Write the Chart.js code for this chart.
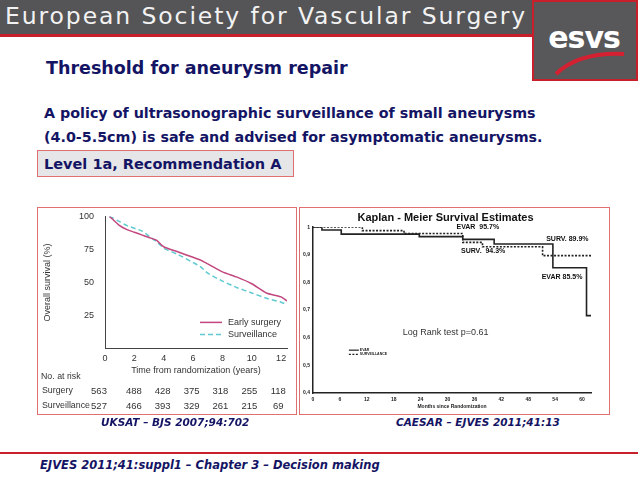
<!DOCTYPE html>
<html><head><meta charset="utf-8">
<script src="https://cdn.jsdelivr.net/npm/chart.js@4/dist/chart.umd.min.js"></script>
<style>
body{margin:0;width:638px;height:478px;background:#fff;position:relative;overflow:hidden;font-family:"DejaVu Sans",sans-serif}
.a{position:absolute;white-space:nowrap}
#hdr{left:0;top:0;width:638px;height:34px;background:#555557;border-bottom:3px solid #c8202a}
#hdrt{left:5px;top:2px;color:#f2f2f2;font-size:23.5px;letter-spacing:1.9px;font-family:"DejaVu Sans",sans-serif}
#logo{left:532px;top:0;width:102px;height:77px;background:#58585a;border:2px solid #c8202a}
.navy{color:#141464}
#panL,#panR{top:207px;height:206px;border:1px solid #e07070}
#panL{left:37px;width:258px}
#panR{left:299px;width:309px}
.cap{top:416px;font-size:10.5px;font-weight:bold;font-style:italic;color:#141464}
.risk{font-family:"Liberation Sans",Arial;font-size:9.5px;color:#333}
.rl{font-family:"Liberation Sans",Arial;font-size:8.8px;color:#333}
</style></head><body>
<div class="a" id="hdr"></div>
<div class="a" id="hdrt">European Society for Vascular Surgery</div>
<div class="a" id="logo"><svg width="102" height="77"><text x="50" y="46" text-anchor="middle" fill="#fff" font-family="DejaVu Sans" font-weight="bold" font-size="30" letter-spacing="-1">esvs</text><path d="M22 72 Q45 50 90 52" stroke="#d42030" stroke-width="4" fill="none"/></svg></div>
<div class="a navy" style="left:46px;top:58px;font-size:17.5px;font-weight:600">Threshold for aneurysm repair</div>
<div class="a navy" style="left:44px;top:101px;font-size:14.3px;font-weight:600;line-height:24px">A policy of ultrasonographic surveillance of small aneurysms<br>(4.0-5.5cm) is safe and advised for asymptomatic aneurysms.</div>
<div class="a navy" style="left:37px;top:150px;width:257px;height:27px;background:#e6e6e8;border:1px solid #e07070;font-size:14.5px;font-weight:600;line-height:26px;padding-left:6px;box-sizing:border-box">Level 1a, Recommendation A</div>
<div class="a" id="panL"><canvas id="c1" width="258" height="168" style="position:absolute;left:0;top:0"></canvas><div id="riskT"></div></div>
<div class="a" id="panR"><canvas id="c2" width="309" height="202" style="position:absolute;left:0;top:0"></canvas></div>
<div class="a cap" style="left:101px">UKSAT – BJS 2007;94:702</div>
<div class="a cap" style="left:396px">CAESAR – EJVES 2011;41:13</div>
<div class="a" style="left:0;top:452px;width:638px;height:2px;background:#c8202a"></div>
<div class="a" style="left:40px;top:458px;font-size:11.5px;font-style:italic;font-weight:bold;color:#141464">EJVES 2011;41:suppl1 – Chapter 3 – Decision making</div>
<script>
// UKSAT
const ukYears=[0.3,0.5,1,1.5,2,2.5,3,3.5,4,5,6,6.5,7,8,9,10,11,12,12.4];
const ukSurgery=[100,98,93,90,88,86,84,82,77,73,69,67,64,58,54,49,42,39,36];
const ukSurv=[100,99,96,93,91,89,85,81,76,71,65,62,57,51,46,42,38,35,33];
const riskTimes=[0,2,4,6,8,10,12];
const riskSurgery=[563,488,428,375,318,255,118];
const riskSurv=[527,466,393,329,261,215,69];
// CAESAR
const evarMonths=[0,2,6.3,23.7,33.4,40.4,53.5,61,62];
const evarSurv=[1,0.99,0.975,0.966,0.956,0.939,0.853,0.68,0.68];
const survMonths=[0,11,20.3,33.4,37.8,51.2,62];
const survSurv=[1,0.9875,0.977,0.945,0.929,0.897,0.897];
const kmNotes=[["EVAR  95.7%",32,1.0],["SURV. 89.9%",52,0.958],["SURV.  94.3%",33,0.915],["EVAR 85.5%",51,0.82]];

const pts=(x,y)=>x.map((v,i)=>({x:v,y:y[i]}));
Chart.defaults.animation=false;
const sf={family:"Liberation Sans",size:9};
new Chart(document.getElementById('c1'),{type:'line',
data:{datasets:[{label:'Early surgery',data:pts(ukYears,ukSurgery),borderColor:'#c2477e',borderWidth:1.5,pointRadius:0,tension:0.2},
{label:'Surveillance',data:pts(ukYears,ukSurv),borderColor:'#5fcad2',borderDash:[5,3],borderWidth:1.5,pointRadius:0,tension:0.2}]},
options:{responsive:false,layout:{padding:{top:4,right:9}},plugins:{legend:{display:false},tooltip:{enabled:false}},
scales:{x:{type:'linear',min:0,max:12.4,afterBuildTicks:a=>{a.ticks=riskTimes.map(v=>({value:v}))},grid:{display:false,tickLength:4},border:{color:'#444'},ticks:{font:sf,color:'#333',padding:1},title:{display:true,text:'Time from randomization (years)',font:sf,color:'#333',padding:0}},
y:{min:0,max:100,afterBuildTicks:a=>{a.ticks=[25,50,75,100].map(v=>({value:v}))},afterFit:a=>{a.width=67},grid:{display:false},border:{color:'#444'},ticks:{font:sf,color:'#333'},title:{display:true,text:'Overall survival (%)',font:sf,color:'#333'}}}},
plugins:[{id:'lg',afterDraw(c){const x=c.ctx;const d=c.data.datasets;const ca=c.chartArea;d.forEach((s,i)=>{const yy=ca.bottom-26+i*12;x.save();x.strokeStyle=s.borderColor;x.lineWidth=1.5;x.setLineDash(s.borderDash||[]);x.beginPath();x.moveTo(ca.left+95,yy);x.lineTo(ca.left+117,yy);x.stroke();x.setLineDash([]);x.fillStyle='#333';x.font='9px Liberation Sans';x.textBaseline='middle';x.fillText(s.label,ca.left+123,yy);x.restore();});}}]});
// risk table from arrays
(function(){const t=document.getElementById('riskT');let h='<div class="a rl" style="left:3px;top:163px">No. at risk</div>';
const xs=v=>67+(v/12.4)*179;
[['Surgery',riskSurgery,177],['Surveillance',riskSurv,192]].forEach(r=>{h+=`<div class="a rl" style="left:4px;top:${r[2]}px">${r[0]}</div>`;r[1].forEach((n,i)=>{h+=`<div class="a risk" style="left:${xs(riskTimes[i])-8-(i===0?6:0)}px;top:${r[2]}px;width:16px;text-align:center">${n}</div>`;});});t.innerHTML=h;})();

const tf={family:"Liberation Sans",size:5,weight:'bold'};
new Chart(document.getElementById('c2'),{type:'line',
data:{datasets:[{label:'EVAR',data:pts(evarMonths,evarSurv),borderColor:'#222',borderWidth:1.6,pointRadius:0,stepped:'before'},
{label:'SURVEILLANCE',data:pts(survMonths,survSurv),borderColor:'#222',borderDash:[2,1.5],borderWidth:1.6,pointRadius:0,stepped:'before'}]},
options:{responsive:false,layout:{padding:{top:0,right:18,left:0}},plugins:{legend:{display:false},tooltip:{enabled:false},
title:{display:true,text:'Kaplan - Meier Survival Estimates',font:{family:"Liberation Sans",size:11,weight:'bold'},color:'#111',padding:{top:3,bottom:3}}},
scales:{x:{type:'linear',min:0,max:62,afterBuildTicks:a=>{a.ticks=[0,6,12,18,24,30,36,42,48,54,60].map(v=>({value:v}))},grid:{display:false,tickLength:3},border:{color:'#222',width:1.5},ticks:{font:tf,color:'#222',padding:1},title:{display:true,text:'Months since Randomization',font:tf,color:'#222',padding:0}},
y:{min:0.4,max:1,afterBuildTicks:a=>{a.ticks=[0.4,0.5,0.6,0.7,0.8,0.9,1].map(v=>({value:v}))},afterFit:a=>{a.width=13},grid:{display:false,tickLength:2},border:{color:'#222',width:1.5},ticks:{font:tf,color:'#222',padding:1,callback:v=>v===1?'1':v.toFixed(1).replace('.',',')}}}},
plugins:[{id:'nt',afterDraw(c){const x=c.ctx,sx=c.scales.x,sy=c.scales.y;x.save();x.fillStyle='#111';x.font='bold 7px Liberation Sans';x.textBaseline='middle';
kmNotes.forEach(n=>x.fillText(n[0],sx.getPixelForValue(n[1]),sy.getPixelForValue(n[2])));
x.font='9px Liberation Sans';x.fillStyle='#333';x.fillText('Log Rank test p=0.61',sx.getPixelForValue(20),sy.getPixelForValue(0.62));
c.data.datasets.forEach((s,i)=>{const yy=sy.getPixelForValue(0.555-i*0.015),x0=sx.getPixelForValue(8);x.strokeStyle='#222';x.lineWidth=1.2;x.setLineDash(s.borderDash||[]);x.beginPath();x.moveTo(x0,yy);x.lineTo(x0+10,yy);x.stroke();x.setLineDash([]);x.font='bold 3.5px Liberation Sans';x.fillStyle='#222';x.fillText(s.label,x0+11,yy);});x.restore();}}]});
</script></body></html>
